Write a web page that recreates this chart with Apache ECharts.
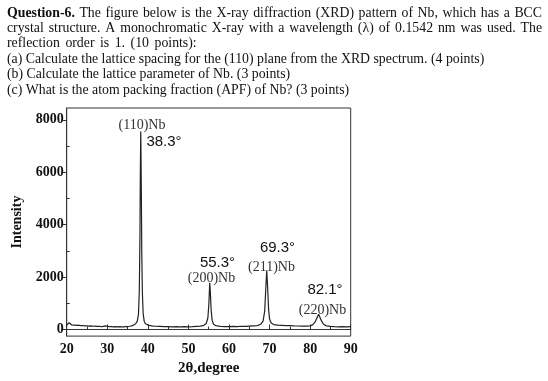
<!DOCTYPE html>
<html>
<head>
<meta charset="utf-8">
<script src="https://cdn.jsdelivr.net/npm/echarts@6/dist/echarts.min.js"></script>
<style>html,body{margin:0;padding:0;background:#fff}#c{width:548px;height:381px}</style>
</head>
<body>
<div id="c"></div>
<script>
// ---- data ----
const twoTheta = [20.0,20.3,20.6,20.9,21.2,21.5,22.0,22.5,23.0,23.5,24.0,24.5,25.0,25.5,26.0,26.5,27.0,27.5,28.0,28.5,29.0,29.5,30.0,30.5,31.0,31.5,32.0,32.5,33.0,33.5,34.0,34.5,35.0,35.5,36.0,36.5,37.0,37.4,37.7,37.9,38.05,38.15,38.25,38.32,38.4,38.5,38.65,38.85,39.1,39.4,39.8,40.3,41,41.5,42,43,44,45,46,47,48,49,50,51,52,53,53.8,54.4,54.8,55.05,55.25,55.4,55.6,55.85,56.2,56.7,57.5,58,59,60,61,62,63,64,65,66,67,67.8,68.4,68.8,69.05,69.3,69.5,69.75,70.0,70.4,71,72,73,74,75,76,77,78,79,80,80.6,81.2,81.7,82.1,82.4,82.8,83.3,84,85,86,87,88,89,90];
const intensity = [170,150,260,200,180,190,170,160,165,150,155,140,145,130,140,125,130,120,125,115,120,140,125,110,115,105,110,100,110,105,100,110,115,125,140,170,220,320,600,1500,3500,6000,7550,6600,5200,3000,1400,600,320,220,180,160,140,130,125,120,110,115,105,110,100,110,105,110,120,130,160,230,450,1000,1780,1450,750,350,200,150,130,120,115,110,120,115,125,120,130,140,150,200,320,700,1500,2250,1700,800,400,250,190,170,160,150,155,140,135,130,130,140,180,280,450,580,520,330,200,140,120,110,105,115,100,110];
const yTickValues = [0, 2000, 4000, 6000, 8000];
const yMinorValues = [1000, 3000, 5000, 7000];
const peakAngles = ['38.3°', '55.3°', '69.3°', '82.1°'];
const peakPlanes = ['(110)Nb', '(200)Nb', '(211)Nb', '(220)Nb'];
const questionLines = [
  {words: ['**Question-6.', 'The', 'figure', 'below', 'is', 'the', 'X-ray', 'diffraction', '(XRD)', 'pattern', 'of', 'Nb,', 'which', 'has', 'a', 'BCC'], justify: true},
  {words: ['crystal', 'structure.', 'A', 'monochromatic', 'X-ray', 'with', 'a', 'wavelength', '(λ)', 'of', '0.1542', 'nm', 'was', 'used.', 'The'], justify: true},
  {words: ['reflection', 'order', 'is', '1.', '(10', 'points):'], justify: false},
  {words: ['(a) Calculate the lattice spacing for the (110) plane from the XRD spectrum. (4 points)'], justify: false},
  {words: ['(b) Calculate the lattice parameter of Nb. (3 points)'], justify: false},
  {words: ['(c) What is the atom packing fraction (APF) of Nb? (3 points)'], justify: false}
];

const SERIF = '"Liberation Serif", "Times New Roman", serif';
const SANS = '"Liberation Sans", Arial, sans-serif';
const QFS = 13.8;
const ctx = document.createElement('canvas').getContext('2d');
function fontStr(bold){ return (bold ? 'bold ' : '') + QFS + 'px ' + SERIF; }
function measure(t, bold){ ctx.font = fontStr(bold); return ctx.measureText(t).width; }

const graphics = [];
const LX = 7, RX = 542, Y0 = 13, LH = 15.4;
questionLines.forEach((ln, i) => {
  const y = Y0 + i * LH;
  const items = ln.words.map(w => w.startsWith('**') ? {t: w.slice(2), b: true} : {t: w, b: false});
  const widths = items.map(it => measure(it.t, it.b));
  const sum = widths.reduce((a, b) => a + b, 0);
  const gap = ln.justify && items.length > 1 ? (RX - LX - sum) / (items.length - 1) : measure(' ', false) * (i === 2 ? 1.6 : 1);
  let x = LX;
  items.forEach((it, k) => {
    graphics.push({type: 'text', x: x, y: y, silent: true,
      style: {text: it.t, font: fontStr(it.b), fill: '#111', align: 'left', verticalAlign: 'middle'}});
    x += widths[k] + gap;
  });
});

const angleLabelPos = [[164, 142], [217.5, 262.5], [277.5, 248], [325, 290]];
const planeLabelPos = [[142, 125], [211.5, 278.5], [271.5, 267], [322.5, 310]];
peakAngles.forEach((t, i) => {
  graphics.push({type: 'text', x: angleLabelPos[i][0], y: angleLabelPos[i][1], silent: true,
    style: {text: t, font: '15px ' + SANS, fill: '#111', align: 'center', verticalAlign: 'middle'}});
});
peakPlanes.forEach((t, i) => {
  graphics.push({type: 'text', x: planeLabelPos[i][0], y: planeLabelPos[i][1], silent: true,
    style: {text: t, font: '14px ' + SERIF, fill: '#333', align: 'center', verticalAlign: 'middle'}});
});

const chart = echarts.init(document.getElementById('c'), null, {renderer: 'canvas'});
const axisFont = {fontFamily: SERIF, fontWeight: 'bold', fontSize: 14, color: '#111'};
chart.setOption({
  animation: false,
  backgroundColor: '#fff',
  grid: {left: 66.7, right: 197.3, top: 108, bottom: 41, show: true, borderColor: '#333', borderWidth: 1, backgroundColor: 'transparent'},
  xAxis: {
    type: 'value', min: 20, max: 90, interval: 10,
    name: '2θ,degree', nameLocation: 'middle', nameGap: 22,
    nameTextStyle: Object.assign({}, axisFont, {fontSize: 15}),
    axisLine: {lineStyle: {color: '#333', width: 1}},
    axisTick: {inside: true, length: 5, lineStyle: {color: '#333'}},
    minorTick: {show: true, splitNumber: 2, length: 3, lineStyle: {color: '#333'}},
    axisLabel: Object.assign({}, axisFont, {margin: 6, formatter: v => String(v)}),
    splitLine: {show: false}
  },
  yAxis: [{
    type: 'value', min: -250, max: 8450,
    name: 'Intensity', nameLocation: 'middle', nameGap: 40, nameRotate: 90,
    nameTextStyle: Object.assign({}, axisFont),
    axisLine: {show: true, lineStyle: {color: '#333', width: 1}},
    axisTick: {show: true, inside: false, length: 4, customValues: yTickValues, lineStyle: {color: '#333'}},
    axisLabel: Object.assign({}, axisFont, {margin: 3, customValues: yTickValues, formatter: v => String(v)}),
    splitLine: {show: false}
  }, {
    type: 'value', min: -250, max: 8450, position: 'left',
    axisLine: {show: false},
    axisTick: {show: true, inside: true, length: 3, customValues: yMinorValues, lineStyle: {color: '#333'}},
    axisLabel: {show: false, customValues: yMinorValues},
    splitLine: {show: false}
  }],
  series: [{
    type: 'line', yAxisIndex: 0, showSymbol: false, symbol: 'none',
    lineStyle: {color: '#222', width: 1.2},
    data: twoTheta.map((x, i) => [x, intensity[i]])
  }],
  graphic: graphics
});
</script>
</body>
</html>
